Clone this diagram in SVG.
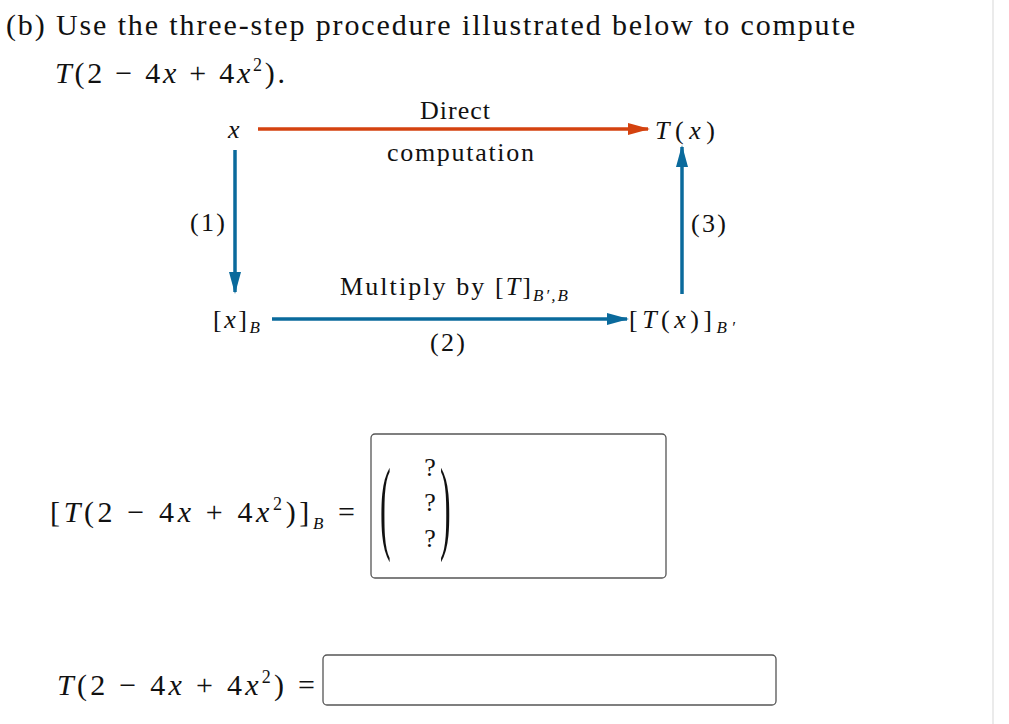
<svg xmlns="http://www.w3.org/2000/svg" width="1009" height="724" viewBox="0 0 1009 724">
<defs>
<marker id="ar" markerWidth="22" markerHeight="12" refX="20" refY="6" orient="auto" markerUnits="userSpaceOnUse" viewBox="0 0 22 12"><path d="M0,0 L22,6 L0,12 z" fill="#d4420f"/></marker>
<marker id="ab" markerWidth="22" markerHeight="12" refX="20" refY="6" orient="auto" markerUnits="userSpaceOnUse" viewBox="0 0 22 12"><path d="M0,0 L22,6 L0,12 z" fill="#0a6a9c"/></marker>
</defs>
<style>
text{font-family:"Liberation Serif","DejaVu Serif",serif;fill:#111;}
.t{font-size:30px}
.m{font-size:26px}
.i{font-style:italic}
.s{font-size:17px}
.box{fill:#fff;stroke:#555;stroke-width:1.3}
</style>
<rect width="1009" height="724" fill="#fff"/>
<line x1="993" y1="0" x2="993" y2="724" stroke="#e4e4e4" stroke-width="1.5"/>
<g id="question">
<text x="6" y="35" class="t" textLength="849" lengthAdjust="spacing">(b) Use the three-step procedure illustrated below to compute</text>
<text x="55" y="83" class="t" textLength="230"><tspan class="i">T</tspan>(2 − 4<tspan class="i">x</tspan> + 4<tspan class="i">x</tspan><tspan font-size="18" dy="-12">2</tspan><tspan dy="12">).</tspan></text>
</g>
<g id="connectors" stroke-width="3.5" fill="none">
<line x1="258" y1="129" x2="648" y2="129" stroke="#d4420f" marker-end="url(#ar)"/>
<line x1="235" y1="150" x2="235" y2="292" stroke="#0a6a9c" marker-end="url(#ab)"/>
<line x1="272" y1="319" x2="627" y2="319" stroke="#0a6a9c" marker-end="url(#ab)"/>
<line x1="682" y1="294" x2="682" y2="147" stroke="#0a6a9c" marker-end="url(#ab)"/>
</g>
<g id="node-x"><text x="228" y="138" class="m i">x</text></g>
<g id="node-Tx"><text x="655" y="139" class="m" textLength="60"><tspan class="i">T</tspan>(<tspan class="i">x</tspan>)</text></g>
<g id="node-xB"><text x="213" y="328" class="m" textLength="47">[<tspan class="i">x</tspan>]<tspan class="s i" dy="5">B</tspan></text></g>
<g id="node-TxB"><text x="629" y="328" class="m" textLength="106">[<tspan class="i">T</tspan>(<tspan class="i">x</tspan>)]<tspan class="s i" dy="5">B′</tspan></text></g>
<g id="labels">
<text x="420" y="119" class="m" textLength="70">Direct</text>
<text x="387" y="161" class="m" textLength="147">computation</text>
<text x="190" y="231" class="m" textLength="35">(1)</text>
<text x="691" y="232" class="m" textLength="35">(3)</text>
<text x="340" y="295" class="m" textLength="228">Multiply by [<tspan class="i">T</tspan>]<tspan class="s i" dy="6">B′,B</tspan></text>
<text x="430" y="351" class="m" textLength="35">(2)</text>
</g>
<g id="answer1">
<text x="50" y="522" class="t" textLength="305">[<tspan class="i">T</tspan>(2 − 4<tspan class="i">x</tspan> + 4<tspan class="i">x</tspan><tspan font-size="18" dy="-12">2</tspan><tspan dy="12">)]</tspan><tspan class="s i" dy="7">B</tspan><tspan dy="-7"> =</tspan></text>
<rect x="371" y="434" width="295" height="144" rx="4" class="box"/>
<text transform="translate(380,540) scale(0.8,2.6)" font-size="40" style="font-weight:100">(</text>
<text transform="translate(440,540) scale(0.8,2.6)" font-size="40" style="font-weight:100">)</text>
<text x="430" y="476" class="m" text-anchor="middle">?</text>
<text x="430" y="511" class="m" text-anchor="middle">?</text>
<text x="430" y="547" class="m" text-anchor="middle">?</text>
</g>
<g id="answer2">
<text x="57" y="695" class="t" textLength="258"><tspan class="i">T</tspan>(2 − 4<tspan class="i">x</tspan> + 4<tspan class="i">x</tspan><tspan font-size="18" dy="-12">2</tspan><tspan dy="12">) =</tspan></text>
<rect x="323" y="655" width="453" height="50" rx="4" class="box"/>
</g>
</svg>
